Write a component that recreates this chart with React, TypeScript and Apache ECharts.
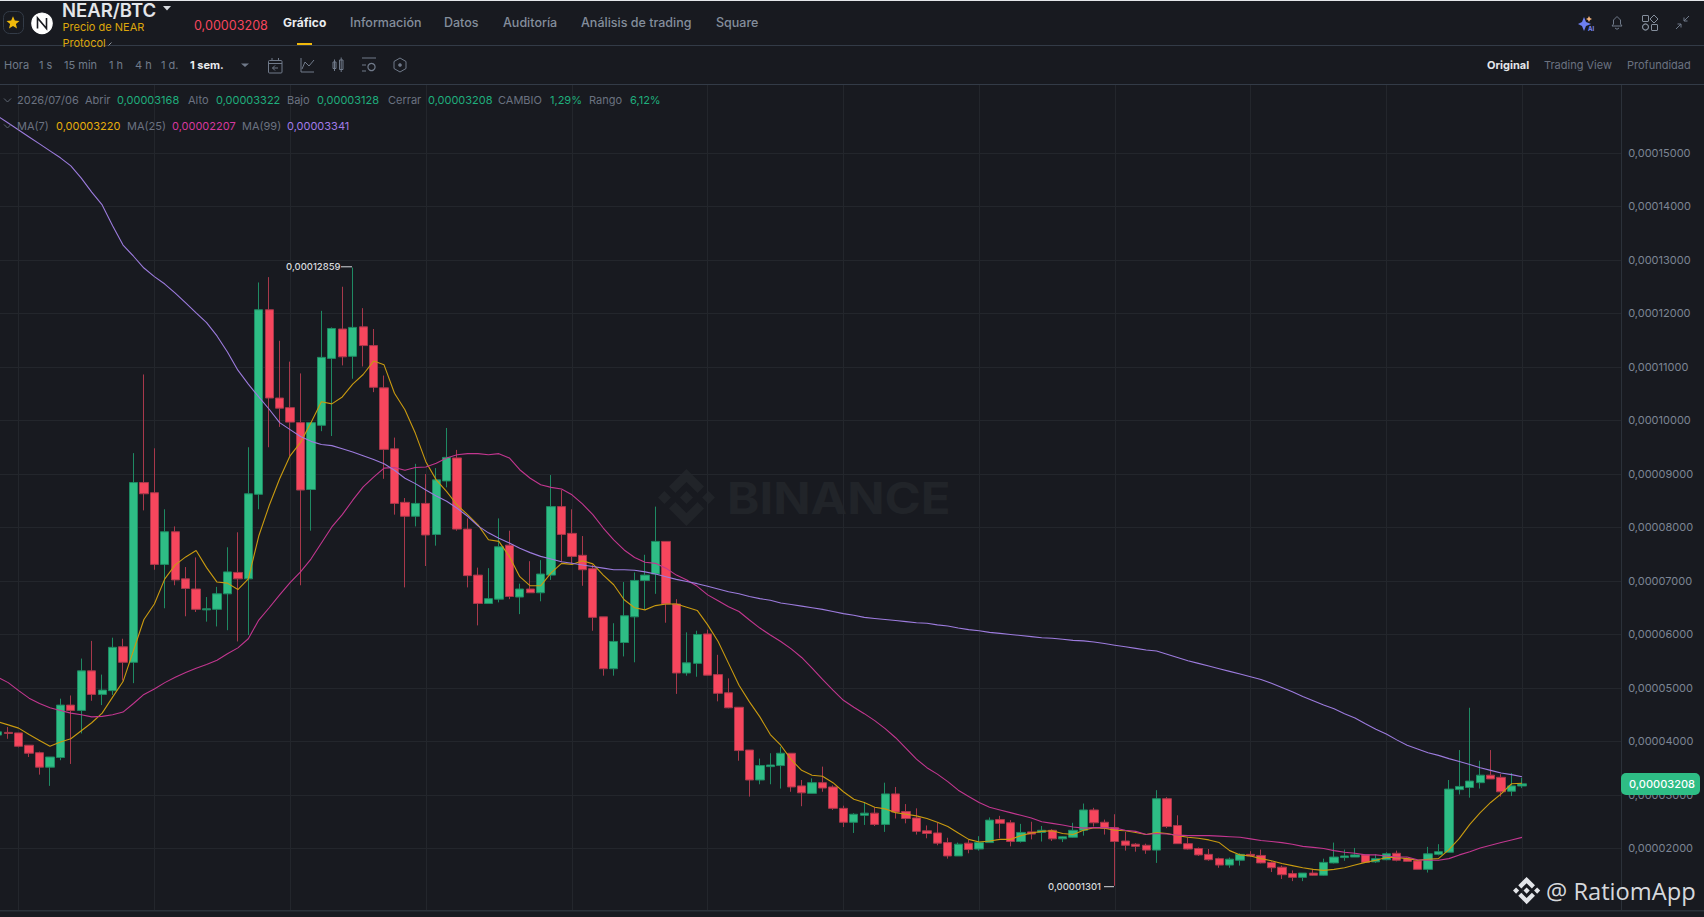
import React, { useEffect, useRef } from "react";
import * as echarts from "echarts";

// All prices are in units of 0.00001 BTC. Rows are [open, close, low, high].
const candles: number[][] = [
  [4.12,4.18,4.10,4.20],[4.17,4.15,4.05,4.27],[4.16,3.91,3.89,4.16],[3.93,3.78,3.71,3.93],[3.79,3.52,3.38,3.81],
  [3.52,3.71,3.17,3.71],[3.70,4.68,3.65,4.80],[4.68,4.58,3.58,4.86],[4.58,5.32,4.15,5.55],[5.32,4.88,4.76,5.88],
  [4.88,4.96,4.68,5.25],[4.95,5.76,4.87,5.94],[5.77,5.48,5.14,5.92],[5.48,8.84,5.09,9.39],[8.84,8.63,8.32,10.86],
  [8.65,7.31,7.21,9.48],[7.31,7.92,6.49,8.34],[7.92,7.02,6.92,8.02],[7.04,6.86,6.34,7.26],[6.85,6.47,6.42,7.44],
  [6.46,6.48,6.24,6.70],[6.47,6.76,6.15,6.89],[6.76,7.17,6.08,7.63],[7.16,7.04,5.87,7.91],[7.04,8.63,5.99,9.50],
  [8.62,12.07,8.34,12.58],[12.07,10.42,9.50,12.68],[10.42,10.23,9.88,11.49],[10.24,9.97,9.34,11.10],[9.96,8.70,6.92,10.88],
  [8.71,9.96,7.94,9.96],[9.91,11.18,9.80,12.05],[11.16,11.72,9.71,11.74],[11.71,11.19,11.03,12.50],[11.20,11.74,10.78,12.859],
  [11.75,11.40,11.01,12.10],[11.40,10.62,10.53,11.71],[10.61,9.46,8.91,10.84],[9.47,8.45,8.24,9.68],
  [8.47,8.21,6.88,8.55],[8.21,8.45,8.02,9.19],[8.45,7.86,7.28,9.00],[7.87,8.89,7.66,9.11],[8.87,9.31,8.75,9.86],
  [9.30,7.97,7.94,9.45],[7.97,7.10,6.88,8.17],[7.11,6.58,6.17,7.25],[6.58,6.67,6.58,7.24],[6.66,7.64,6.60,8.17],
  [7.67,6.71,6.66,7.94],[6.70,6.85,6.38,6.95],[6.85,6.78,6.78,7.37],[6.78,7.13,6.62,7.39],[7.11,8.39,7.02,8.98],
  [8.39,7.87,7.36,8.70],[7.89,7.46,7.33,8.34],[7.48,7.21,6.91,7.84],[7.23,6.32,6.07,7.30],[6.33,5.36,5.23,6.33],
  [5.36,5.87,5.23,6.21],[5.85,6.35,5.59,6.98],[6.33,7.01,5.48,7.16],[7.01,7.11,6.47,7.49],[7.13,7.74,6.76,8.39],
  [7.74,6.57,6.22,7.74],[6.57,5.28,4.89,6.66],[5.28,5.47,5.23,6.04],[5.46,6.00,5.21,6.07],[6.01,5.24,5.24,6.09],
  [5.25,4.90,4.75,5.62],[4.91,4.63,4.62,5.18],
  [4.64,3.83,3.64,4.64],[3.84,3.28,2.97,3.84],[3.28,3.55,3.20,3.68],[3.53,3.56,3.20,3.78],[3.55,3.78,3.12,3.90],
  [3.78,3.15,3.06,3.78],[3.17,3.04,2.79,3.28],[3.03,3.23,3.03,3.31],[3.23,3.13,3.06,3.53],[3.15,2.75,2.72,3.18],
  [2.75,2.49,2.40,2.80],[2.49,2.64,2.29,2.66],[2.62,2.66,2.44,2.87],[2.66,2.45,2.42,2.77],[2.45,3.02,2.31,3.23],
  [3.02,2.68,2.56,3.15],[2.69,2.56,2.47,2.83],[2.57,2.32,2.26,2.75],[2.33,2.28,2.19,2.43],[2.29,2.10,2.06,2.48],
  [2.11,1.86,1.81,2.20],[1.86,2.08,1.86,2.11],[2.10,1.98,1.91,2.16],[1.99,2.11,1.96,2.23],[2.11,2.53,2.11,2.58],
  [2.54,2.47,2.19,2.61],[2.48,2.13,2.04,2.53],[2.13,2.30,2.11,2.46],[2.31,2.27,2.17,2.50],[2.30,2.34,2.13,2.42],
  [2.34,2.18,2.14,2.36],[2.18,2.22,2.12,2.23],[2.21,2.34,2.20,2.48],
  [2.34,2.72,2.24,2.84],[2.72,2.48,2.41,2.76],[2.49,2.38,2.26,2.54],[2.39,2.13,1.301,2.64],[2.14,2.06,1.96,2.31],
  [2.08,2.04,1.94,2.10],[2.06,1.97,1.90,2.09],[1.97,2.93,1.73,3.09],[2.93,2.41,2.38,2.96],[2.43,2.09,2.09,2.62],
  [2.09,1.99,1.98,2.20],[2.00,1.88,1.86,2.02],[1.89,1.79,1.77,1.99],[1.81,1.69,1.64,1.83],[1.69,1.80,1.64,1.83],
  [1.78,1.89,1.68,1.91],[1.89,1.86,1.84,1.95],[1.87,1.73,1.72,1.98],[1.74,1.64,1.56,1.76],[1.65,1.51,1.43,1.68],
  [1.53,1.46,1.39,1.59],[1.46,1.54,1.39,1.54],[1.54,1.50,1.49,1.61],[1.50,1.74,1.49,1.81],[1.73,1.84,1.72,2.11],
  [1.83,1.86,1.77,1.98],[1.84,1.88,1.84,2.01],[1.88,1.74,1.74,1.88],[1.75,1.81,1.73,1.89],[1.79,1.90,1.78,1.93],
  [1.91,1.78,1.76,1.96],[1.81,1.76,1.75,1.83],[1.77,1.61,1.61,1.78],[1.61,1.90,1.55,2.03],[1.89,1.94,1.87,2.08],
  [1.93,3.11,1.93,3.28],[3.10,3.16,3.01,3.84],[3.14,3.26,2.95,4.63],[3.23,3.37,3.12,3.64],[3.37,3.30,3.30,3.84],
  [3.33,3.06,2.97,3.39],[3.07,3.17,2.98,3.41],[3.168,3.208,3.128,3.322],
];

const ma7: number[] = [
  4.37,4.31,4.25,4.13,4.02,3.91,3.99,4.05,4.20,4.35,4.53,4.83,5.12,5.70,6.28,6.57,7.04,7.30,7.45,7.57,7.25,6.98,6.96,6.84,7.04,7.84,8.41,8.91,9.34,9.59,9.96,10.35,10.31,10.44,10.68,10.86,11.11,11.04,10.51,
  10.20,9.76,9.23,8.89,8.67,8.42,8.24,8.05,7.77,7.74,7.46,7.08,6.91,6.91,7.15,7.33,7.31,7.38,7.32,7.11,6.93,6.65,6.50,6.46,6.54,6.57,6.57,6.51,6.45,6.18,5.87,5.46,
  5.05,4.74,4.46,4.13,3.93,3.66,3.46,3.37,3.35,3.23,3.06,2.92,2.86,2.77,2.74,2.67,2.64,2.61,2.56,2.49,2.41,2.29,2.17,2.12,2.14,2.17,2.17,2.24,2.29,2.32,2.33,2.28,2.26,
  2.34,2.39,2.38,2.34,2.33,2.30,2.26,2.30,2.28,2.24,2.21,2.19,2.16,2.11,1.96,1.88,1.86,1.81,1.77,1.72,1.68,1.64,1.61,1.59,1.61,1.64,1.69,1.74,1.78,1.83,1.83,1.81,1.78,1.80,1.81,1.98,2.19,
  2.45,2.67,2.86,3.02,3.21,3.22,
];

const ma25: number[] = [
  5.20,5.10,4.95,4.81,4.71,4.63,4.58,4.53,4.50,4.46,4.47,4.50,4.55,4.71,4.88,4.98,5.10,5.20,5.29,5.37,5.44,5.52,5.64,5.75,5.92,6.27,6.50,6.74,6.97,7.17,7.41,7.71,8.01,8.24,8.51,8.76,8.94,9.11,9.12,
  9.07,9.12,9.13,9.20,9.30,9.36,9.38,9.38,9.36,9.38,9.30,9.08,8.92,8.80,8.75,8.72,8.61,8.44,8.24,7.99,7.77,7.58,7.44,7.35,7.33,7.24,7.11,7.02,6.90,6.74,6.63,6.52,6.43,6.27,6.12,5.99,5.87,
  5.73,5.57,5.37,5.16,4.96,4.77,4.64,4.52,4.39,4.24,4.07,3.87,3.67,3.51,3.39,3.25,3.09,2.97,2.86,2.77,2.72,2.67,2.62,2.57,2.50,2.47,2.44,2.40,
  2.38,2.39,2.39,2.38,2.34,2.32,2.26,2.28,2.27,2.25,2.24,2.24,2.24,2.23,2.22,2.21,2.18,2.15,2.13,2.11,2.08,2.04,2.02,2.00,1.96,1.93,1.91,1.88,1.88,1.86,1.84,1.84,1.79,1.78,1.78,1.81,1.88,
  1.94,2.01,2.06,2.11,2.16,2.207,
];

const ma99: number[] = [
  15.69,15.56,15.43,15.30,15.17,15.04,14.91,14.76,14.53,14.27,14.03,13.64,13.28,
  13.07,12.85,12.69,12.55,12.38,12.20,12.01,11.83,11.58,11.28,10.94,10.68,10.44,10.21,9.96,9.83,9.70,9.61,9.55,9.53,9.47,9.41,9.34,9.27,9.19,9.07,
  8.92,8.82,8.70,8.59,8.49,8.36,8.21,8.03,7.90,7.80,7.71,7.61,7.53,7.46,7.41,7.36,7.33,7.30,7.27,7.24,7.21,7.21,7.20,7.17,7.13,7.08,7.03,6.99,6.95,6.90,6.85,6.80,6.76,6.71,6.67,6.64,
  6.59,6.56,6.53,6.50,6.47,6.43,6.39,6.36,6.32,6.30,6.28,6.26,6.24,6.22,6.21,6.18,6.16,6.12,6.09,6.07,6.04,6.02,6.00,5.98,5.96,5.94,5.93,5.91,5.89,
  5.88,5.86,5.83,5.80,5.77,5.74,5.71,5.69,5.63,5.57,5.51,5.46,5.41,5.36,5.31,5.26,5.21,5.16,5.09,5.01,4.93,4.84,
  4.76,4.68,4.61,4.52,4.44,4.33,4.23,4.14,4.03,3.93,3.86,3.79,3.74,3.68,3.625,3.57,3.51,3.46,3.41,3.38,3.341,
];

const priceTicks = [2, 3, 4, 5, 6, 7, 8, 9, 10, 11, 12, 13, 14, 15];
const gridCandles = [2, 15, 28, 41, 55, 68, 81, 94, 107, 120, 133, 146];
const blankSlots = 9;

const navTabs: [string, number][] = [["Información", 350], ["Datos", 444], ["Auditoría", 503], ["Análisis de trading", 581], ["Square", 716]];
const intervals: [string, number][] = [["Hora", 4], ["1 s", 39], ["15 min", 64], ["1 h", 109], ["4 h", 135], ["1 d.", 161]];
const viewTabs: [string, number][] = [["Trading View", 1544], ["Profundidad", 1627]];
const ohlcRow: [string, number, string][] = [
  ["2026/07/06", 17, "grey"], ["Abrir", 85, "grey"], ["0,00003168", 117, "up"], ["Alto", 188, "grey"], ["0,00003322", 216, "up"],
  ["Bajo", 287, "grey"], ["0,00003128", 317, "up"], ["Cerrar", 388, "grey"], ["0,00003208", 428, "up"], ["CAMBIO", 498, "grey"],
  ["1,29%", 550, "up"], ["Rango", 589, "grey"], ["6,12%", 630, "up"],
];
const maRow: [string, number, string][] = [
  ["MA(7)", 17, "grey"], ["0,00003220", 56, "ma7"], ["MA(25)", 127, "grey"], ["0,00002207", 172, "ma25"], ["MA(99)", 242, "grey"], ["0,00003341", 287, "ma99"],
];

const UP = "#2EBD85", DOWN = "#F6465D", BG = "#181A20", YEL = "#F0B90B";
const FONT = "Inter";
const PAD = 20; // the chart div starts this far left of the page, so the first candle can be cut by the page edge
const rowColor: Record<string, string> = { grey: "#6B7280", up: "#1FAE7C", ma7: "#E6AE0C", ma25: "#D6389E", ma99: "#A27CE8" };
const LOGO = "M38.73 53.2 63.3 28.64l24.59 24.58 14.3-14.3L63.3 0 24.43 38.9zM0 63.31l14.3-14.3 14.3 14.3-14.3 14.3zM38.73 73.41 63.3 97.98l24.59-24.58 14.31 14.29-38.9 38.91-38.88-38.88-.02-.02zM97.99 63.31l14.3-14.3 14.3 14.3-14.3 14.3zM77.83 63.3 63.3 48.76 52.58 59.48l-1.23 1.23-2.54 2.54-.02.02 14.51 14.51 14.53-14.53z";

const txt = (text: string, x: number, y: number, fill: string, fontSize = 11, fontWeight: any = 400, z = 50, extra: any = {}) => ({
  type: "text", x, y, z, silent: true,
  style: { text, fill, fontSize, fontWeight, fontFamily: FONT, align: "left", verticalAlign: "middle", ...extra },
});
const box = (x: number, y: number, width: number, height: number, fill: string, z = 40, r = 0, stroke?: string) => ({
  type: "rect", z, silent: true, shape: { x, y, width, height, r }, style: stroke ? { fill: "none", stroke, lineWidth: 1 } : { fill },
});
const pl = (points: number[][], stroke = "#848E9C", lineWidth = 1.2, z = 50) => ({
  type: "polyline", z, silent: true, shape: { points }, style: { fill: "none", stroke, lineWidth },
});
const pg = (points: number[][], fill: string, z = 50) => ({ type: "polygon", z, silent: true, shape: { points }, style: { fill } });
const ring = (cx: number, cy: number, r: number, stroke = "#848E9C", fill = "none", z = 50) => ({
  type: "circle", z, silent: true, shape: { cx, cy, r }, style: { fill, stroke, lineWidth: 1.2 },
});

const starPts = (cx: number, cy: number, R: number) => {
  const out: number[][] = [];
  for (let k = 0; k < 10; k++) {
    const rad = k % 2 ? R * 0.45 : R;
    const a = -Math.PI / 2 + (k * Math.PI) / 5;
    out.push([cx + rad * Math.cos(a), cy + rad * Math.sin(a)]);
  }
  return out;
};

function buildGraphics() {
  const g: any[] = [];
  g.push({ type: "binanceLogo", x: 658, y: 469, scaleX: 0.45, scaleY: 0.45, z: 0, silent: true, style: { fill: "#212429" } });
  g.push({ ...txt("BINANCE", 727, 498, "#212429", 44, 700, 0), scaleX: 1.115 });

  g.push(box(0, 0, 1704, 1, "#E4E6EA"));
  g.push(box(0, 45, 1704, 1, "#333B47"));
  g.push(box(0, 84, 1704, 1, "#333B47"));
  g.push(box(0, 910, 1704, 1.5, "#2B3139"));

  g.push(box(3.5, 11.5, 20, 22, "", 50, 6, "#333B47"));
  g.push(pg(starPts(13, 23, 6.8), YEL));
  g.push(ring(42, 23.3, 10.2, "#FFFFFF", "#FFFFFF"));
  g.push(pl([[37.5, 28.5], [37.5, 18], [46.5, 28.5], [46.5, 18]], "#181A20", 1.6, 51));
  g.push(txt("NEAR/BTC", 62, 10, "#E4E6EA", 18.5, 600));
  g.push(pg([[163, 6], [171, 6], [167, 10.5]], "#D9DCE1"));
  g.push(txt("Precio de NEAR", 62.5, 27, "#DDA60C", 11));
  g.push(txt("Protocol", 62.5, 43, "#DDA60C", 11));
  g.push(pl([[108.5, 45.5], [111.5, 42.5]], "#B0B5BD", 0.8));
  g.push(txt("0,00003208", 194, 25, DOWN, 12.6));
  g.push(txt("Gráfico", 283, 22.5, "#EAECEF", 12, 700));
  g.push(box(297, 43, 15, 2, YEL, 51));
  navTabs.forEach(([s, x]) => g.push(txt(s, x, 22.5, "#848E9C", 12.5, 500)));

  intervals.forEach(([s, x]) => g.push(txt(s, x, 65, "#707A8A", 11, 400)));
  g.push(txt("1 sem.", 190, 65, "#EAECEF", 11, 700));
  g.push(pg([[241, 63.5], [249, 63.5], [245, 67]], "#707A8A"));
  // calendar
  g.push(box(268.5, 60.5, 13.5, 12.5, "", 50, 1, "#707A8A"));
  g.push(pl([[268.5, 63.5], [282, 63.5]], "#707A8A", 1));
  g.push(pl([[272, 58], [272, 60.5]], "#707A8A", 1));
  g.push(pl([[278.5, 58], [278.5, 60.5]], "#707A8A", 1));
  g.push(pl([[278, 68], [272.5, 68]], "#707A8A", 1));
  g.push(pl([[275, 65.5], [272.5, 68], [275, 70.5]], "#707A8A", 1));
  // indicator chart
  g.push(pl([[301, 58], [301, 72], [314, 72]], "#707A8A", 1));
  g.push(pl([[302, 69], [305, 62], [309, 66], [314, 60]], "#707A8A", 1));
  // candles icon
  g.push(box(333, 62, 3, 6.5, "", 50, 0, "#707A8A"));
  g.push(box(339.5, 60, 3.5, 9.5, "", 50, 0, "#707A8A"));
  g.push(pl([[334.5, 59.5], [334.5, 71]], "#707A8A", 1));
  g.push(pl([[341.2, 57.5], [341.2, 72]], "#707A8A", 1));
  // settings icon
  g.push(pl([[362, 58], [376, 58]], "#707A8A", 1));
  g.push(pl([[362, 65], [366, 65]], "#707A8A", 1));
  g.push(pl([[362, 71], [366, 71]], "#707A8A", 1));
  g.push(ring(371.5, 67, 3.6, "#707A8A"));
  // hex icon
  g.push(pl([[400, 58], [406, 61.5], [406, 68.5], [400, 72], [394, 68.5], [394, 61.5], [400, 58]], "#707A8A", 1));
  g.push(ring(400, 65, 1.2, "#707A8A", "#707A8A"));

  g.push(txt("Original", 1487, 65, "#E4E6EA", 11, 700));
  viewTabs.forEach(([s, x]) => g.push(txt(s, x, 65, "#6B7280", 11)));

  // top right icons
  g.push(pg([[1584, 17], [1586, 22], [1591, 24], [1586, 26], [1584, 31], [1582, 26], [1578, 24], [1582, 22]], "#6E80F2"));
  g.push(pg([[1589, 16], [1590, 18], [1592, 19], [1590, 20], [1589, 22], [1588, 20], [1586, 19], [1588, 18]], "#F3B27A"));
  g.push(txt("AI", 1588, 28, "#7E8CF5", 6, 700));
  g.push(pl([[1612, 26], [1613.5, 24], [1613.5, 20], [1617, 16.5], [1620.5, 20], [1620.5, 24], [1622, 26], [1612, 26]], "#707A8A", 1));
  g.push(pl([[1615, 28], [1617, 29.3], [1619, 28]], "#707A8A", 1));
  g.push(box(1642.5, 15.5, 6, 6, "", 50, 0.5, "#848E9C"));
  g.push(pl([[1654, 15], [1658, 19], [1654, 23], [1650, 19], [1654, 15]], "#848E9C", 1));
  g.push(ring(1645.5, 27, 3, "#848E9C"));
  g.push(box(1651.5, 24.5, 6, 6, "", 50, 0.5, "#848E9C"));
  g.push(pl([[1689, 16], [1684, 21]], "#707A8A", 1));
  g.push(pl([[1684, 17.5], [1684, 21], [1687.5, 21]], "#707A8A", 1));
  g.push(pl([[1676, 29], [1681, 24]], "#707A8A", 1));
  g.push(pl([[1677.5, 24], [1681, 24], [1681, 27.5]], "#707A8A", 1));

  // legend rows
  g.push(pl([[4, 98.5], [7.5, 102], [11, 98.5]], "#5E6673", 1));
  ohlcRow.forEach(([s, x, c]) => g.push(txt(s, x, 100, rowColor[c], 11)));
  g.push(pl([[4, 124.5], [7.5, 128], [11, 124.5]], "#5E6673", 1));
  maRow.forEach(([s, x, c]) => g.push(txt(s, x, 126, rowColor[c], 11)));

  // extremes
  g.push(txt("0,00012859", 286, 266.5, "#D7D9DD", 9.5, 500, 30));
  g.push(pl([[341, 266.8], [352, 266.8]], "#D7D9DD", 1, 30));
  g.push(txt("0,00001301", 1048, 886.5, "#D7D9DD", 9.5, 500, 30));
  g.push(pl([[1104, 886.7], [1114, 886.7]], "#D7D9DD", 1, 30));

  // last price tag
  g.push(box(1621, 773, 79, 22, UP, 45, 5));
  g.push(txt("0,00003208", 1629, 784, "#FFFFFF", 11, 500));

  // attribution
  g.push({ type: "binanceLogo", x: 1513, y: 877, scaleX: 0.215, scaleY: 0.215, z: 50, silent: true, style: { fill: "#E2E4E8" } });
  g.push(txt("@ RatiomApp", 1546, 891, "#D6D8DC", 23.7, 400, 50, { fontFamily: "Open Sans" }));
  return g;
}

export default function App() {
  const ref = useRef<HTMLDivElement>(null);
  useEffect(() => {
    document.body.style.margin = "0";
    document.body.style.background = BG;
    const chart = echarts.init(ref.current!, undefined, { renderer: "svg" });
    echarts.graphic.registerShape("binanceLogo", echarts.graphic.extendPath(LOGO, {}) as any);
    const band = 10.44;
    const total = candles.length + blankSlots;
    const lastX = 1522;
    const gridLeft = PAD + lastX - (candles.length - 0.5) * band;
    const categories: string[] = candles.map((_, i) => `W${i + 1}`);
    for (let i = 0; i < blankSlots; i++) categories.push("");
    const line = (name: string, data: number[], color: string) => ({
      name, type: "line", data, showSymbol: false, symbol: "none", z: 3, silent: true,
      lineStyle: { color, width: 1.1 }, itemStyle: { color },
    });
    chart.setOption({
      animation: false,
      backgroundColor: BG,
      tooltip: { show: false },
      legend: { show: false },
      grid: { left: gridLeft, top: 85, width: total * band, height: 825, containLabel: false },
      xAxis: {
        type: "category", data: categories, boundaryGap: true,
        axisLine: { show: false }, axisTick: { show: false }, axisLabel: { show: false },
        splitLine: {
          show: true, alignWithLabel: true,
          interval: (i: number) => gridCandles.includes(i),
          lineStyle: { color: "#23262C", width: 1 },
        },
      },
      yAxis: {
        type: "value", position: "right", scale: true, min: 0.85, max: 16.271,
        axisLine: { show: true, lineStyle: { color: "#2B3139" } },
        axisTick: { show: false, customValues: priceTicks },
        axisLabel: {
          customValues: priceTicks, margin: 7, color: "#7C8594", fontSize: 11, fontFamily: FONT,
          formatter: (v: number) => (v / 1e5).toFixed(8).replace(".", ","),
        },
        splitLine: { show: true, lineStyle: { color: "#23262C", width: 1 } },
      },
      series: [
        {
          name: "NEAR/BTC", type: "candlestick", data: candles, barWidth: 8.8, z: 2, silent: true,
          itemStyle: { color: UP, color0: DOWN, borderColor: "#1E8A63", borderColor0: "#A8384B", borderWidth: 1 },
        },
        line("MA(7)", ma7, "#C99A10"),
        line("MA(25)", ma25, "#C2368F"),
        line("MA(99)", ma99, "#9C7BDD"),
      ],
      graphic: { elements: [{ type: "group", x: PAD, y: 0, children: buildGraphics() }] },
    });
    return () => chart.dispose();
  }, []);
  return (
    <div style={{ position: "fixed", left: 0, top: 0, width: 1704, height: 917, overflow: "hidden" }}>
      <div style={{ position: "absolute", left: -PAD, top: 0, width: 1704 + PAD, height: 917 }}>
        <div ref={ref} style={{ width: 1704 + PAD, height: 917 }} />
      </div>
    </div>
  );
}
